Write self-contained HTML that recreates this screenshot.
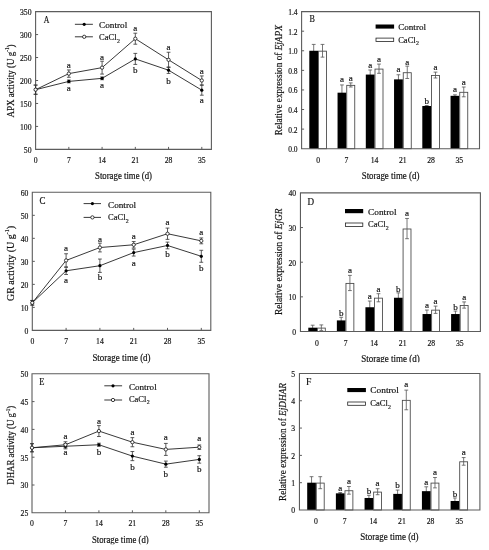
<!DOCTYPE html>
<html><head><meta charset="utf-8"><title>Figure</title>
<style>
html,body{margin:0;padding:0;background:#fff;}
body{width:489px;height:550px;overflow:hidden;}
svg{display:block;}
text{font-family:"Liberation Serif", "DejaVu Serif", serif;fill:#111;stroke:#111;stroke-width:0.18px;}
</style></head>
<body>
<svg width="489" height="550" viewBox="0 0 489 550">
<rect width="489" height="550" fill="#fff"/>
<path d="M35.6 11.6H211.4V149.4H35.6Z" fill="none" stroke="#5c5c5c" stroke-width="1.1"/>
<text x="31.5" y="152.8" font-size="9" text-anchor="end" textLength="7.7" lengthAdjust="spacingAndGlyphs" >50</text>
<path d="M35.6 126.43h2.5" stroke="#5c5c5c" stroke-width="1"/>
<text x="31.5" y="129.83" font-size="9" text-anchor="end" textLength="11.55" lengthAdjust="spacingAndGlyphs" >100</text>
<path d="M35.6 103.47h2.5" stroke="#5c5c5c" stroke-width="1"/>
<text x="31.5" y="106.87" font-size="9" text-anchor="end" textLength="11.55" lengthAdjust="spacingAndGlyphs" >150</text>
<path d="M35.6 80.5h2.5" stroke="#5c5c5c" stroke-width="1"/>
<text x="31.5" y="83.9" font-size="9" text-anchor="end" textLength="11.55" lengthAdjust="spacingAndGlyphs" >200</text>
<path d="M35.6 57.53h2.5" stroke="#5c5c5c" stroke-width="1"/>
<text x="31.5" y="60.93" font-size="9" text-anchor="end" textLength="11.55" lengthAdjust="spacingAndGlyphs" >250</text>
<path d="M35.6 34.57h2.5" stroke="#5c5c5c" stroke-width="1"/>
<text x="31.5" y="37.97" font-size="9" text-anchor="end" textLength="11.55" lengthAdjust="spacingAndGlyphs" >300</text>
<text x="31.5" y="15" font-size="9" text-anchor="end" textLength="11.55" lengthAdjust="spacingAndGlyphs" >350</text>
<text x="35.6" y="162.8" font-size="9" text-anchor="middle" textLength="3.85" lengthAdjust="spacingAndGlyphs" >0</text>
<path d="M68.84 149.4v-2.5" stroke="#5c5c5c" stroke-width="1"/>
<text x="68.84" y="162.8" font-size="9" text-anchor="middle" textLength="3.85" lengthAdjust="spacingAndGlyphs" >7</text>
<path d="M102.08 149.4v-2.5" stroke="#5c5c5c" stroke-width="1"/>
<text x="102.08" y="162.8" font-size="9" text-anchor="middle" textLength="7.7" lengthAdjust="spacingAndGlyphs" >14</text>
<path d="M135.32 149.4v-2.5" stroke="#5c5c5c" stroke-width="1"/>
<text x="135.32" y="162.8" font-size="9" text-anchor="middle" textLength="7.7" lengthAdjust="spacingAndGlyphs" >21</text>
<path d="M168.56 149.4v-2.5" stroke="#5c5c5c" stroke-width="1"/>
<text x="168.56" y="162.8" font-size="9" text-anchor="middle" textLength="7.7" lengthAdjust="spacingAndGlyphs" >28</text>
<path d="M201.8 149.4v-2.5" stroke="#5c5c5c" stroke-width="1"/>
<text x="201.8" y="162.8" font-size="9" text-anchor="middle" textLength="7.7" lengthAdjust="spacingAndGlyphs" >35</text>
<polyline points="35.6,89.69 68.84,81.42 102.08,78.34 135.32,58.91 168.56,70.21 201.8,90.15" fill="none" stroke="#222" stroke-width="0.9"/>
<polyline points="35.6,89.69 68.84,73.61 102.08,67.64 135.32,38.7 168.56,59.83 201.8,80.5" fill="none" stroke="#222" stroke-width="0.9"/>
<path d="M35.6 85.09V94.28M33.7 85.09H37.5M33.7 94.28H37.5" stroke="#333" stroke-width="0.8" fill="none"/>
<path d="M68.84 80.04V82.8M66.94 80.04H70.74M66.94 82.8H70.74" stroke="#333" stroke-width="0.8" fill="none"/>
<path d="M102.08 76.96V79.72M100.18 76.96H103.98M100.18 79.72H103.98" stroke="#333" stroke-width="0.8" fill="none"/>
<path d="M135.32 53.4V64.42M133.42 53.4H137.22M133.42 64.42H137.22" stroke="#333" stroke-width="0.8" fill="none"/>
<path d="M168.56 67V73.43M166.66 67H170.46M166.66 73.43H170.46" stroke="#333" stroke-width="0.8" fill="none"/>
<path d="M201.8 85.09V95.2M199.9 85.09H203.7M199.9 95.2H203.7" stroke="#333" stroke-width="0.8" fill="none"/>
<path d="M35.6 85.09V94.28M33.7 85.09H37.5M33.7 94.28H37.5" stroke="#333" stroke-width="0.8" fill="none"/>
<path d="M68.84 69.94V77.28M66.94 69.94H70.74M66.94 77.28H70.74" stroke="#333" stroke-width="0.8" fill="none"/>
<path d="M102.08 61.21V74.07M100.18 61.21H103.98M100.18 74.07H103.98" stroke="#333" stroke-width="0.8" fill="none"/>
<path d="M135.32 33.19V44.21M133.42 33.19H137.22M133.42 44.21H137.22" stroke="#333" stroke-width="0.8" fill="none"/>
<path d="M168.56 52.25V67.41M166.66 52.25H170.46M166.66 67.41H170.46" stroke="#333" stroke-width="0.8" fill="none"/>
<path d="M201.8 75.91V85.09M199.9 75.91H203.7M199.9 85.09H203.7" stroke="#333" stroke-width="0.8" fill="none"/>
<circle cx="35.6" cy="89.69" r="1.6" fill="#000"/>
<circle cx="68.84" cy="81.42" r="1.6" fill="#000"/>
<circle cx="102.08" cy="78.34" r="1.6" fill="#000"/>
<circle cx="135.32" cy="58.91" r="1.6" fill="#000"/>
<circle cx="168.56" cy="70.21" r="1.6" fill="#000"/>
<circle cx="201.8" cy="90.15" r="1.6" fill="#000"/>
<circle cx="35.6" cy="89.69" r="1.65" fill="#fff" stroke="#111" stroke-width="0.8"/>
<circle cx="68.84" cy="73.61" r="1.65" fill="#fff" stroke="#111" stroke-width="0.8"/>
<circle cx="102.08" cy="67.64" r="1.65" fill="#fff" stroke="#111" stroke-width="0.8"/>
<circle cx="135.32" cy="38.7" r="1.65" fill="#fff" stroke="#111" stroke-width="0.8"/>
<circle cx="168.56" cy="59.83" r="1.65" fill="#fff" stroke="#111" stroke-width="0.8"/>
<circle cx="201.8" cy="80.5" r="1.65" fill="#fff" stroke="#111" stroke-width="0.8"/>
<text x="68.84" y="67.57" font-size="9" text-anchor="middle" >a</text>
<text x="68.84" y="91.07" font-size="9" text-anchor="middle" >a</text>
<text x="102.08" y="59.77" font-size="9" text-anchor="middle" >a</text>
<text x="102.08" y="87.77" font-size="9" text-anchor="middle" >a</text>
<text x="135.32" y="31.07" font-size="9" text-anchor="middle" >a</text>
<text x="135.32" y="72.97" font-size="9" text-anchor="middle" >b</text>
<text x="168.56" y="50.37" font-size="9" text-anchor="middle" >a</text>
<text x="168.56" y="83.67" font-size="9" text-anchor="middle" >b</text>
<text x="201.8" y="73.67" font-size="9" text-anchor="middle" >a</text>
<text x="201.8" y="102.57" font-size="9" text-anchor="middle" >a</text>
<path d="M74.9 24.3H92.9M74.9 36.8H92.9" stroke="#222" stroke-width="0.9"/>
<circle cx="84.2" cy="24.3" r="1.6" fill="#000"/>
<circle cx="84.2" cy="36.8" r="1.65" fill="#fff" stroke="#111" stroke-width="0.8"/>
<text x="99.1" y="27.8" font-size="9.2" text-anchor="start" textLength="28.2" lengthAdjust="spacingAndGlyphs" >Control</text>
<text x="99.1" y="40.4" font-size="9.2" text-anchor="start" textLength="17.5" lengthAdjust="spacingAndGlyphs" >CaCl</text>
<text x="116.9" y="42.7" font-size="5.8" text-anchor="start" >2</text>
<text x="43.8" y="23" font-size="10" text-anchor="start" textLength="5.6" lengthAdjust="spacingAndGlyphs" >A</text>
<text x="95" y="179.4" font-size="9.3" text-anchor="start" textLength="57" lengthAdjust="spacingAndGlyphs" >Storage time (d)</text>
<text transform="translate(14,80.9) rotate(-90)" x="0" y="0" font-size="9.3" text-anchor="middle" textLength="73" lengthAdjust="spacingAndGlyphs">APX activity (U g<tspan font-size="5.5" dy="-4.6">-1</tspan><tspan dy="4.6">)</tspan></text>
<path d="M32.3 192.3H210.8V330.4H32.3Z" fill="none" stroke="#5c5c5c" stroke-width="1.1"/>
<text x="28.4" y="333.8" font-size="9" text-anchor="end" textLength="3.85" lengthAdjust="spacingAndGlyphs" >0</text>
<path d="M32.3 307.38h2.5" stroke="#5c5c5c" stroke-width="1"/>
<text x="28.4" y="310.78" font-size="9" text-anchor="end" textLength="7.7" lengthAdjust="spacingAndGlyphs" >10</text>
<path d="M32.3 284.37h2.5" stroke="#5c5c5c" stroke-width="1"/>
<text x="28.4" y="287.77" font-size="9" text-anchor="end" textLength="7.7" lengthAdjust="spacingAndGlyphs" >20</text>
<path d="M32.3 261.35h2.5" stroke="#5c5c5c" stroke-width="1"/>
<text x="28.4" y="264.75" font-size="9" text-anchor="end" textLength="7.7" lengthAdjust="spacingAndGlyphs" >30</text>
<path d="M32.3 238.33h2.5" stroke="#5c5c5c" stroke-width="1"/>
<text x="28.4" y="241.73" font-size="9" text-anchor="end" textLength="7.7" lengthAdjust="spacingAndGlyphs" >40</text>
<path d="M32.3 215.32h2.5" stroke="#5c5c5c" stroke-width="1"/>
<text x="28.4" y="218.72" font-size="9" text-anchor="end" textLength="7.7" lengthAdjust="spacingAndGlyphs" >50</text>
<text x="28.4" y="195.7" font-size="9" text-anchor="end" textLength="7.7" lengthAdjust="spacingAndGlyphs" >60</text>
<text x="32.3" y="344.1" font-size="9" text-anchor="middle" textLength="3.85" lengthAdjust="spacingAndGlyphs" >0</text>
<path d="M66.1 330.4v-2.5" stroke="#5c5c5c" stroke-width="1"/>
<text x="66.1" y="344.1" font-size="9" text-anchor="middle" textLength="3.85" lengthAdjust="spacingAndGlyphs" >7</text>
<path d="M99.9 330.4v-2.5" stroke="#5c5c5c" stroke-width="1"/>
<text x="99.9" y="344.1" font-size="9" text-anchor="middle" textLength="7.7" lengthAdjust="spacingAndGlyphs" >14</text>
<path d="M133.7 330.4v-2.5" stroke="#5c5c5c" stroke-width="1"/>
<text x="133.7" y="344.1" font-size="9" text-anchor="middle" textLength="7.7" lengthAdjust="spacingAndGlyphs" >21</text>
<path d="M167.5 330.4v-2.5" stroke="#5c5c5c" stroke-width="1"/>
<text x="167.5" y="344.1" font-size="9" text-anchor="middle" textLength="7.7" lengthAdjust="spacingAndGlyphs" >28</text>
<path d="M201.3 330.4v-2.5" stroke="#5c5c5c" stroke-width="1"/>
<text x="201.3" y="344.1" font-size="9" text-anchor="middle" textLength="7.7" lengthAdjust="spacingAndGlyphs" >35</text>
<polyline points="32.3,302.78 66.1,270.79 99.9,265.72 133.7,252.6 167.5,245.47 201.3,256.29" fill="none" stroke="#222" stroke-width="0.9"/>
<polyline points="32.3,302.78 66.1,260.43 99.9,247.54 133.7,244.78 167.5,233.73 201.3,240.87" fill="none" stroke="#222" stroke-width="0.9"/>
<path d="M32.3 300.48V305.08M30.4 300.48H34.2M30.4 305.08H34.2" stroke="#333" stroke-width="0.8" fill="none"/>
<path d="M66.1 267.1V274.47M64.2 267.1H68M64.2 274.47H68" stroke="#333" stroke-width="0.8" fill="none"/>
<path d="M99.9 259.05V272.4M98 259.05H101.8M98 272.4H101.8" stroke="#333" stroke-width="0.8" fill="none"/>
<path d="M133.7 249.15V256.06M131.8 249.15H135.6M131.8 256.06H135.6" stroke="#333" stroke-width="0.8" fill="none"/>
<path d="M167.5 242.11V248.83M165.6 242.11H169.4M165.6 248.83H169.4" stroke="#333" stroke-width="0.8" fill="none"/>
<path d="M201.3 250.3V262.27M199.4 250.3H203.2M199.4 262.27H203.2" stroke="#333" stroke-width="0.8" fill="none"/>
<path d="M32.3 300.48V305.08M30.4 300.48H34.2M30.4 305.08H34.2" stroke="#333" stroke-width="0.8" fill="none"/>
<path d="M66.1 253.75V267.1M64.2 253.75H68M64.2 267.1H68" stroke="#333" stroke-width="0.8" fill="none"/>
<path d="M99.9 243.17V251.91M98 243.17H101.8M98 251.91H101.8" stroke="#333" stroke-width="0.8" fill="none"/>
<path d="M133.7 241.56V248M131.8 241.56H135.6M131.8 248H135.6" stroke="#333" stroke-width="0.8" fill="none"/>
<path d="M167.5 228.09V239.37M165.6 228.09H169.4M165.6 239.37H169.4" stroke="#333" stroke-width="0.8" fill="none"/>
<path d="M201.3 237.94V243.79M199.4 237.94H203.2M199.4 243.79H203.2" stroke="#333" stroke-width="0.8" fill="none"/>
<circle cx="32.3" cy="302.78" r="1.6" fill="#000"/>
<circle cx="66.1" cy="270.79" r="1.6" fill="#000"/>
<circle cx="99.9" cy="265.72" r="1.6" fill="#000"/>
<circle cx="133.7" cy="252.6" r="1.6" fill="#000"/>
<circle cx="167.5" cy="245.47" r="1.6" fill="#000"/>
<circle cx="201.3" cy="256.29" r="1.6" fill="#000"/>
<circle cx="32.3" cy="302.78" r="1.65" fill="#fff" stroke="#111" stroke-width="0.8"/>
<circle cx="66.1" cy="260.43" r="1.65" fill="#fff" stroke="#111" stroke-width="0.8"/>
<circle cx="99.9" cy="247.54" r="1.65" fill="#fff" stroke="#111" stroke-width="0.8"/>
<circle cx="133.7" cy="244.78" r="1.65" fill="#fff" stroke="#111" stroke-width="0.8"/>
<circle cx="167.5" cy="233.73" r="1.65" fill="#fff" stroke="#111" stroke-width="0.8"/>
<circle cx="201.3" cy="240.87" r="1.65" fill="#fff" stroke="#111" stroke-width="0.8"/>
<text x="66.1" y="251.27" font-size="9" text-anchor="middle" >a</text>
<text x="66.1" y="282.57" font-size="9" text-anchor="middle" >a</text>
<text x="99.9" y="241.57" font-size="9" text-anchor="middle" >a</text>
<text x="99.9" y="280.17" font-size="9" text-anchor="middle" >b</text>
<text x="133.7" y="239.37" font-size="9" text-anchor="middle" >a</text>
<text x="133.7" y="265.87" font-size="9" text-anchor="middle" >a</text>
<text x="167.5" y="225.37" font-size="9" text-anchor="middle" >a</text>
<text x="167.5" y="257.37" font-size="9" text-anchor="middle" >b</text>
<text x="201.3" y="235.47" font-size="9" text-anchor="middle" >a</text>
<text x="201.3" y="270.67" font-size="9" text-anchor="middle" >b</text>
<path d="M83.6 203.6H101M83.6 217.4H101" stroke="#222" stroke-width="0.9"/>
<circle cx="92.4" cy="203.6" r="1.6" fill="#000"/>
<circle cx="92.4" cy="217.4" r="1.65" fill="#fff" stroke="#111" stroke-width="0.8"/>
<text x="108" y="207.5" font-size="9.2" text-anchor="start" textLength="28.1" lengthAdjust="spacingAndGlyphs" >Control</text>
<text x="108" y="220.4" font-size="9.2" text-anchor="start" textLength="17.5" lengthAdjust="spacingAndGlyphs" >CaCl</text>
<text x="125.8" y="222.7" font-size="5.8" text-anchor="start" >2</text>
<text x="39.5" y="203.6" font-size="10" text-anchor="start" textLength="6" lengthAdjust="spacingAndGlyphs" >C</text>
<text x="92.4" y="360.5" font-size="9.3" text-anchor="start" textLength="58.2" lengthAdjust="spacingAndGlyphs" >Storage time (d)</text>
<text transform="translate(14,263.5) rotate(-90)" x="0" y="0" font-size="9.3" text-anchor="middle" textLength="75" lengthAdjust="spacingAndGlyphs">GR activity (U g<tspan font-size="5.5" dy="-4.6">-1</tspan><tspan dy="4.6">)</tspan></text>
<path d="M32 373.8H209V512.8H32Z" fill="none" stroke="#5c5c5c" stroke-width="1.1"/>
<text x="28.3" y="516.2" font-size="9" text-anchor="end" textLength="7.7" lengthAdjust="spacingAndGlyphs" >25</text>
<path d="M32 485h2.5" stroke="#5c5c5c" stroke-width="1"/>
<text x="28.3" y="488.4" font-size="9" text-anchor="end" textLength="7.7" lengthAdjust="spacingAndGlyphs" >30</text>
<path d="M32 457.2h2.5" stroke="#5c5c5c" stroke-width="1"/>
<text x="28.3" y="460.6" font-size="9" text-anchor="end" textLength="7.7" lengthAdjust="spacingAndGlyphs" >35</text>
<path d="M32 429.4h2.5" stroke="#5c5c5c" stroke-width="1"/>
<text x="28.3" y="432.8" font-size="9" text-anchor="end" textLength="7.7" lengthAdjust="spacingAndGlyphs" >40</text>
<path d="M32 401.6h2.5" stroke="#5c5c5c" stroke-width="1"/>
<text x="28.3" y="405" font-size="9" text-anchor="end" textLength="7.7" lengthAdjust="spacingAndGlyphs" >45</text>
<text x="28.3" y="377.2" font-size="9" text-anchor="end" textLength="7.7" lengthAdjust="spacingAndGlyphs" >50</text>
<text x="32" y="526.3" font-size="9" text-anchor="middle" textLength="3.85" lengthAdjust="spacingAndGlyphs" >0</text>
<path d="M65.46 512.8v-2.5" stroke="#5c5c5c" stroke-width="1"/>
<text x="65.46" y="526.3" font-size="9" text-anchor="middle" textLength="3.85" lengthAdjust="spacingAndGlyphs" >7</text>
<path d="M98.92 512.8v-2.5" stroke="#5c5c5c" stroke-width="1"/>
<text x="98.92" y="526.3" font-size="9" text-anchor="middle" textLength="7.7" lengthAdjust="spacingAndGlyphs" >14</text>
<path d="M132.38 512.8v-2.5" stroke="#5c5c5c" stroke-width="1"/>
<text x="132.38" y="526.3" font-size="9" text-anchor="middle" textLength="7.7" lengthAdjust="spacingAndGlyphs" >21</text>
<path d="M165.84 512.8v-2.5" stroke="#5c5c5c" stroke-width="1"/>
<text x="165.84" y="526.3" font-size="9" text-anchor="middle" textLength="7.7" lengthAdjust="spacingAndGlyphs" >28</text>
<path d="M199.3 512.8v-2.5" stroke="#5c5c5c" stroke-width="1"/>
<text x="199.3" y="526.3" font-size="9" text-anchor="middle" textLength="7.7" lengthAdjust="spacingAndGlyphs" >35</text>
<polyline points="32,447.75 65.46,446.25 98.92,444.75 132.38,456.09 165.84,464.15 199.3,459.42" fill="none" stroke="#222" stroke-width="0.9"/>
<polyline points="32,447.75 65.46,444.75 98.92,431.07 132.38,442.19 165.84,449.42 199.3,447.19" fill="none" stroke="#222" stroke-width="0.9"/>
<path d="M32 443.69V451.81M30.1 443.69H33.9M30.1 451.81H33.9" stroke="#333" stroke-width="0.8" fill="none"/>
<path d="M65.46 443.63V448.86M63.56 443.63H67.36M63.56 448.86H67.36" stroke="#333" stroke-width="0.8" fill="none"/>
<path d="M98.92 443.19V446.3M97.02 443.19H100.82M97.02 446.3H100.82" stroke="#333" stroke-width="0.8" fill="none"/>
<path d="M132.38 451.53V460.65M130.48 451.53H134.28M130.48 460.65H134.28" stroke="#333" stroke-width="0.8" fill="none"/>
<path d="M165.84 461.09V467.21M163.94 461.09H167.74M163.94 467.21H167.74" stroke="#333" stroke-width="0.8" fill="none"/>
<path d="M199.3 455.7V463.15M197.4 455.7H201.2M197.4 463.15H201.2" stroke="#333" stroke-width="0.8" fill="none"/>
<path d="M32 443.69V451.81M30.1 443.69H33.9M30.1 451.81H33.9" stroke="#333" stroke-width="0.8" fill="none"/>
<path d="M65.46 441.74V447.75M63.56 441.74H67.36M63.56 447.75H67.36" stroke="#333" stroke-width="0.8" fill="none"/>
<path d="M98.92 425.62V436.52M97.02 425.62H100.82M97.02 436.52H100.82" stroke="#333" stroke-width="0.8" fill="none"/>
<path d="M132.38 437.63V446.75M130.48 437.63H134.28M130.48 446.75H134.28" stroke="#333" stroke-width="0.8" fill="none"/>
<path d="M165.84 443.41V455.42M163.94 443.41H167.74M163.94 455.42H167.74" stroke="#333" stroke-width="0.8" fill="none"/>
<path d="M199.3 444.97V449.42M197.4 444.97H201.2M197.4 449.42H201.2" stroke="#333" stroke-width="0.8" fill="none"/>
<circle cx="32" cy="447.75" r="1.6" fill="#000"/>
<circle cx="65.46" cy="446.25" r="1.6" fill="#000"/>
<circle cx="98.92" cy="444.75" r="1.6" fill="#000"/>
<circle cx="132.38" cy="456.09" r="1.6" fill="#000"/>
<circle cx="165.84" cy="464.15" r="1.6" fill="#000"/>
<circle cx="199.3" cy="459.42" r="1.6" fill="#000"/>
<circle cx="32" cy="447.75" r="1.65" fill="#fff" stroke="#111" stroke-width="0.8"/>
<circle cx="65.46" cy="444.75" r="1.65" fill="#fff" stroke="#111" stroke-width="0.8"/>
<circle cx="98.92" cy="431.07" r="1.65" fill="#fff" stroke="#111" stroke-width="0.8"/>
<circle cx="132.38" cy="442.19" r="1.65" fill="#fff" stroke="#111" stroke-width="0.8"/>
<circle cx="165.84" cy="449.42" r="1.65" fill="#fff" stroke="#111" stroke-width="0.8"/>
<circle cx="199.3" cy="447.19" r="1.65" fill="#fff" stroke="#111" stroke-width="0.8"/>
<text x="65.46" y="438.67" font-size="9" text-anchor="middle" >a</text>
<text x="65.46" y="455.47" font-size="9" text-anchor="middle" >a</text>
<text x="98.92" y="423.67" font-size="9" text-anchor="middle" >a</text>
<text x="98.92" y="454.77" font-size="9" text-anchor="middle" >b</text>
<text x="132.38" y="434.57" font-size="9" text-anchor="middle" >a</text>
<text x="132.38" y="470.17" font-size="9" text-anchor="middle" >b</text>
<text x="165.84" y="440.07" font-size="9" text-anchor="middle" >a</text>
<text x="165.84" y="476.67" font-size="9" text-anchor="middle" >b</text>
<text x="199.3" y="441.07" font-size="9" text-anchor="middle" >a</text>
<text x="199.3" y="472.47" font-size="9" text-anchor="middle" >b</text>
<path d="M104.3 385.8H122.1M104.3 400H122.1" stroke="#222" stroke-width="0.9"/>
<circle cx="113" cy="385.8" r="1.6" fill="#000"/>
<circle cx="113" cy="400" r="1.65" fill="#fff" stroke="#111" stroke-width="0.8"/>
<text x="128.9" y="389.6" font-size="9.2" text-anchor="start" textLength="27.8" lengthAdjust="spacingAndGlyphs" >Control</text>
<text x="128.9" y="402" font-size="9.2" text-anchor="start" textLength="17.5" lengthAdjust="spacingAndGlyphs" >CaCl</text>
<text x="146.7" y="404.3" font-size="5.8" text-anchor="start" >2</text>
<text x="39.3" y="384.9" font-size="10" text-anchor="start" textLength="5.2" lengthAdjust="spacingAndGlyphs" >E</text>
<text x="91.9" y="543.3" font-size="9.3" text-anchor="start" textLength="56.8" lengthAdjust="spacingAndGlyphs" >Storage time (d)</text>
<text transform="translate(14.2,445.2) rotate(-90)" x="0" y="0" font-size="9.3" text-anchor="middle" textLength="79" lengthAdjust="spacingAndGlyphs">DHAR activity (U g<tspan font-size="5.5" dy="-4.6">-1</tspan><tspan dy="4.6">)</tspan></text>
<text x="297.6" y="152.1" font-size="9" text-anchor="end" textLength="9.4" lengthAdjust="spacingAndGlyphs" >0.0</text>
<path d="M301.6 129.11h2.5" stroke="#5c5c5c" stroke-width="1"/>
<text x="297.6" y="132.51" font-size="9" text-anchor="end" textLength="9.4" lengthAdjust="spacingAndGlyphs" >0.2</text>
<path d="M301.6 109.53h2.5" stroke="#5c5c5c" stroke-width="1"/>
<text x="297.6" y="112.93" font-size="9" text-anchor="end" textLength="9.4" lengthAdjust="spacingAndGlyphs" >0.4</text>
<path d="M301.6 89.94h2.5" stroke="#5c5c5c" stroke-width="1"/>
<text x="297.6" y="93.34" font-size="9" text-anchor="end" textLength="9.4" lengthAdjust="spacingAndGlyphs" >0.6</text>
<path d="M301.6 70.36h2.5" stroke="#5c5c5c" stroke-width="1"/>
<text x="297.6" y="73.76" font-size="9" text-anchor="end" textLength="9.4" lengthAdjust="spacingAndGlyphs" >0.8</text>
<path d="M301.6 50.77h2.5" stroke="#5c5c5c" stroke-width="1"/>
<text x="297.6" y="54.17" font-size="9" text-anchor="end" textLength="9.4" lengthAdjust="spacingAndGlyphs" >1.0</text>
<path d="M301.6 31.19h2.5" stroke="#5c5c5c" stroke-width="1"/>
<text x="297.6" y="34.59" font-size="9" text-anchor="end" textLength="9.4" lengthAdjust="spacingAndGlyphs" >1.2</text>
<text x="297.6" y="15" font-size="9" text-anchor="end" textLength="9.4" lengthAdjust="spacingAndGlyphs" >1.4</text>
<text x="318.1" y="162.5" font-size="9" text-anchor="middle" textLength="3.85" lengthAdjust="spacingAndGlyphs" >0</text>
<text x="346.35" y="162.5" font-size="9" text-anchor="middle" textLength="3.85" lengthAdjust="spacingAndGlyphs" >7</text>
<text x="374.6" y="162.5" font-size="9" text-anchor="middle" textLength="7.7" lengthAdjust="spacingAndGlyphs" >14</text>
<text x="402.85" y="162.5" font-size="9" text-anchor="middle" textLength="7.7" lengthAdjust="spacingAndGlyphs" >21</text>
<text x="431.1" y="162.5" font-size="9" text-anchor="middle" textLength="7.7" lengthAdjust="spacingAndGlyphs" >28</text>
<text x="459.35" y="162.5" font-size="9" text-anchor="middle" textLength="7.7" lengthAdjust="spacingAndGlyphs" >35</text>
<path d="M313.7 44.41V57.14M311.8 44.41H315.6M311.8 57.14H315.6" stroke="#555" stroke-width="0.8" fill="none"/>
<rect x="309.3" y="50.77" width="8.8" height="97.93" fill="#000"/>
<rect x="318.5" y="51.17" width="8" height="97.53" fill="#fff" stroke="#444" stroke-width="0.85"/>
<path d="M322.5 44.41V57.14M320.6 44.41H324.4M320.6 57.14H324.4" stroke="#555" stroke-width="0.8" fill="none"/>
<path d="M341.95 84.95V100.42M340.05 84.95H343.85M340.05 100.42H343.85" stroke="#555" stroke-width="0.8" fill="none"/>
<rect x="337.55" y="92.68" width="8.8" height="56.02" fill="#000"/>
<rect x="346.75" y="85.35" width="8" height="63.35" fill="#fff" stroke="#444" stroke-width="0.85"/>
<path d="M350.75 82.89V87M348.85 82.89H352.65M348.85 87H352.65" stroke="#555" stroke-width="0.8" fill="none"/>
<path d="M370.2 69.97V79.17M368.3 69.97H372.1M368.3 79.17H372.1" stroke="#555" stroke-width="0.8" fill="none"/>
<rect x="365.8" y="74.57" width="8.8" height="74.13" fill="#000"/>
<rect x="375" y="69.09" width="8" height="79.61" fill="#fff" stroke="#444" stroke-width="0.85"/>
<path d="M379 64.09V73.3M377.1 64.09H380.9M377.1 73.3H380.9" stroke="#555" stroke-width="0.8" fill="none"/>
<path d="M398.45 74.76V83.97M396.55 74.76H400.35M396.55 83.97H400.35" stroke="#555" stroke-width="0.8" fill="none"/>
<rect x="394.05" y="79.37" width="8.8" height="69.33" fill="#000"/>
<rect x="403.25" y="72.72" width="8" height="75.98" fill="#fff" stroke="#444" stroke-width="0.85"/>
<path d="M407.25 66.15V78.49M405.35 66.15H409.15M405.35 78.49H409.15" stroke="#555" stroke-width="0.8" fill="none"/>
<path d="M426.7 105.51V106.49M424.8 105.51H428.6M424.8 106.49H428.6" stroke="#555" stroke-width="0.8" fill="none"/>
<rect x="422.3" y="106" width="8.8" height="42.7" fill="#000"/>
<rect x="431.5" y="75.46" width="8" height="73.24" fill="#fff" stroke="#444" stroke-width="0.85"/>
<path d="M435.5 72.12V78M433.6 72.12H437.4M433.6 78H437.4" stroke="#555" stroke-width="0.8" fill="none"/>
<path d="M454.95 94.84V96.8M453.05 94.84H456.85M453.05 96.8H456.85" stroke="#555" stroke-width="0.8" fill="none"/>
<rect x="450.55" y="95.82" width="8.8" height="52.88" fill="#000"/>
<rect x="459.75" y="92.3" width="8" height="56.4" fill="#fff" stroke="#444" stroke-width="0.85"/>
<path d="M463.75 87V96.8M461.85 87H465.65M461.85 96.8H465.65" stroke="#555" stroke-width="0.8" fill="none"/>
<path d="M301.6 11.6H479.5V148.7H301.6Z" fill="none" stroke="#5c5c5c" stroke-width="1.1"/>
<text x="341.95" y="82.47" font-size="9" text-anchor="middle" >a</text>
<text x="350.75" y="80.87" font-size="9" text-anchor="middle" >a</text>
<text x="370.2" y="67.67" font-size="9" text-anchor="middle" >a</text>
<text x="379" y="62.27" font-size="9" text-anchor="middle" >a</text>
<text x="398.45" y="72.07" font-size="9" text-anchor="middle" >a</text>
<text x="407.25" y="64.67" font-size="9" text-anchor="middle" >a</text>
<text x="426.7" y="103.67" font-size="9" text-anchor="middle" >b</text>
<text x="435.5" y="69.97" font-size="9" text-anchor="middle" >a</text>
<text x="454.95" y="92.37" font-size="9" text-anchor="middle" >a</text>
<text x="463.75" y="84.77" font-size="9" text-anchor="middle" >a</text>
<rect x="375.6" y="24.5" width="18.5" height="4.1" fill="#000"/>
<rect x="376" y="38.1" width="17.7" height="3.3" fill="#fff" stroke="#222" stroke-width="0.8"/>
<text x="398.2" y="29.7" font-size="9.2" text-anchor="start" textLength="27.8" lengthAdjust="spacingAndGlyphs" >Control</text>
<text x="398.2" y="42.5" font-size="9.2" text-anchor="start" textLength="17.5" lengthAdjust="spacingAndGlyphs" >CaCl</text>
<text x="416" y="44.8" font-size="5.8" text-anchor="start" >2</text>
<text x="309.4" y="22.1" font-size="10" text-anchor="start" textLength="5.4" lengthAdjust="spacingAndGlyphs" >B</text>
<text x="361.7" y="179.1" font-size="9.3" text-anchor="start" textLength="57.7" lengthAdjust="spacingAndGlyphs" >Storage time (d)</text>
<text transform="translate(281.6,80.2) rotate(-90)" x="0" y="0" font-size="9.3" text-anchor="middle" textLength="110" lengthAdjust="spacingAndGlyphs">Relative expression of <tspan font-style="italic">EjAPX</tspan></text>
<text x="296.2" y="334.9" font-size="9" text-anchor="end" textLength="3.85" lengthAdjust="spacingAndGlyphs" >0</text>
<path d="M300.45 296.85h2.5" stroke="#5c5c5c" stroke-width="1"/>
<text x="296.2" y="300.25" font-size="9" text-anchor="end" textLength="7.7" lengthAdjust="spacingAndGlyphs" >10</text>
<path d="M300.45 262.2h2.5" stroke="#5c5c5c" stroke-width="1"/>
<text x="296.2" y="265.6" font-size="9" text-anchor="end" textLength="7.7" lengthAdjust="spacingAndGlyphs" >20</text>
<path d="M300.45 227.55h2.5" stroke="#5c5c5c" stroke-width="1"/>
<text x="296.2" y="230.95" font-size="9" text-anchor="end" textLength="7.7" lengthAdjust="spacingAndGlyphs" >30</text>
<text x="296.2" y="196.3" font-size="9" text-anchor="end" textLength="7.7" lengthAdjust="spacingAndGlyphs" >40</text>
<text x="317" y="345.7" font-size="9" text-anchor="middle" textLength="3.85" lengthAdjust="spacingAndGlyphs" >0</text>
<text x="345.56" y="345.7" font-size="9" text-anchor="middle" textLength="3.85" lengthAdjust="spacingAndGlyphs" >7</text>
<text x="374.12" y="345.7" font-size="9" text-anchor="middle" textLength="7.7" lengthAdjust="spacingAndGlyphs" >14</text>
<text x="402.68" y="345.7" font-size="9" text-anchor="middle" textLength="7.7" lengthAdjust="spacingAndGlyphs" >21</text>
<text x="431.24" y="345.7" font-size="9" text-anchor="middle" textLength="7.7" lengthAdjust="spacingAndGlyphs" >28</text>
<text x="459.8" y="345.7" font-size="9" text-anchor="middle" textLength="7.7" lengthAdjust="spacingAndGlyphs" >35</text>
<path d="M312.65 325.19V330.18M310.75 325.19H314.55M310.75 330.18H314.55" stroke="#555" stroke-width="0.8" fill="none"/>
<rect x="308.3" y="327.69" width="8.7" height="3.81" fill="#000"/>
<rect x="317.4" y="328.09" width="7.9" height="3.41" fill="#fff" stroke="#444" stroke-width="0.85"/>
<path d="M321.35 324.92V330.46M319.45 324.92H323.25M319.45 330.46H323.25" stroke="#555" stroke-width="0.8" fill="none"/>
<path d="M341.21 317.29V323.53M339.31 317.29H343.11M339.31 323.53H343.11" stroke="#555" stroke-width="0.8" fill="none"/>
<rect x="336.86" y="320.41" width="8.7" height="11.09" fill="#000"/>
<rect x="345.96" y="283.39" width="7.9" height="48.11" fill="#fff" stroke="#444" stroke-width="0.85"/>
<path d="M349.91 275.4V290.58M348.01 275.4H351.81M348.01 290.58H351.81" stroke="#555" stroke-width="0.8" fill="none"/>
<path d="M369.77 301.04V313.45M367.87 301.04H371.67M367.87 313.45H371.67" stroke="#555" stroke-width="0.8" fill="none"/>
<rect x="365.42" y="307.25" width="8.7" height="24.25" fill="#000"/>
<rect x="374.52" y="298.15" width="7.9" height="33.35" fill="#fff" stroke="#444" stroke-width="0.85"/>
<path d="M378.47 293.7V301.8M376.57 293.7H380.37M376.57 301.8H380.37" stroke="#555" stroke-width="0.8" fill="none"/>
<path d="M398.33 292.87V302.64M396.43 292.87H400.23M396.43 302.64H400.23" stroke="#555" stroke-width="0.8" fill="none"/>
<rect x="393.98" y="297.75" width="8.7" height="33.75" fill="#000"/>
<rect x="403.08" y="228.99" width="7.9" height="102.51" fill="#fff" stroke="#444" stroke-width="0.85"/>
<path d="M407.03 218.47V238.71M405.13 218.47H408.93M405.13 238.71H408.93" stroke="#555" stroke-width="0.8" fill="none"/>
<path d="M426.89 310.05V318.02M424.99 310.05H428.79M424.99 318.02H428.79" stroke="#555" stroke-width="0.8" fill="none"/>
<rect x="422.54" y="314.04" width="8.7" height="17.46" fill="#000"/>
<rect x="431.64" y="310.14" width="7.9" height="21.36" fill="#fff" stroke="#444" stroke-width="0.85"/>
<path d="M435.59 306.1V313.38M433.69 306.1H437.49M433.69 313.38H437.49" stroke="#555" stroke-width="0.8" fill="none"/>
<path d="M455.45 311.06V317.02M453.55 311.06H457.35M453.55 317.02H457.35" stroke="#555" stroke-width="0.8" fill="none"/>
<rect x="451.1" y="314.04" width="8.7" height="17.46" fill="#000"/>
<rect x="460.2" y="305.43" width="7.9" height="26.07" fill="#fff" stroke="#444" stroke-width="0.85"/>
<path d="M464.15 301.91V308.15M462.25 301.91H466.05M462.25 308.15H466.05" stroke="#555" stroke-width="0.8" fill="none"/>
<path d="M300.45 192.9H480.4V331.5H300.45Z" fill="none" stroke="#5c5c5c" stroke-width="1.1"/>
<text x="341.21" y="315.57" font-size="9" text-anchor="middle" >b</text>
<text x="349.91" y="273.37" font-size="9" text-anchor="middle" >a</text>
<text x="369.77" y="298.87" font-size="9" text-anchor="middle" >a</text>
<text x="378.47" y="291.97" font-size="9" text-anchor="middle" >a</text>
<text x="398.33" y="291.57" font-size="9" text-anchor="middle" >b</text>
<text x="407.03" y="215.97" font-size="9" text-anchor="middle" >a</text>
<text x="426.89" y="308.17" font-size="9" text-anchor="middle" >a</text>
<text x="435.59" y="304.07" font-size="9" text-anchor="middle" >a</text>
<text x="455.45" y="309.57" font-size="9" text-anchor="middle" >b</text>
<text x="464.15" y="299.77" font-size="9" text-anchor="middle" >a</text>
<rect x="345" y="209" width="18.2" height="4.2" fill="#000"/>
<rect x="345.4" y="223" width="17.4" height="3.4" fill="#fff" stroke="#222" stroke-width="0.8"/>
<text x="368" y="214.6" font-size="9.2" text-anchor="start" textLength="28.5" lengthAdjust="spacingAndGlyphs" >Control</text>
<text x="368" y="227.2" font-size="9.2" text-anchor="start" textLength="17.5" lengthAdjust="spacingAndGlyphs" >CaCl</text>
<text x="385.8" y="229.5" font-size="5.8" text-anchor="start" >2</text>
<text x="307.6" y="204.7" font-size="10" text-anchor="start" textLength="6.6" lengthAdjust="spacingAndGlyphs" >D</text>
<text x="361.2" y="361.5" font-size="9.3" text-anchor="start" textLength="58.6" lengthAdjust="spacingAndGlyphs" >Storage time (d)</text>
<text transform="translate(281.8,261.8) rotate(-90)" x="0" y="0" font-size="9.3" text-anchor="middle" textLength="106.4" lengthAdjust="spacingAndGlyphs">Relative expression of <tspan font-style="italic">EjGR</tspan></text>
<text x="295.2" y="513.4" font-size="9" text-anchor="end" textLength="3.85" lengthAdjust="spacingAndGlyphs" >0</text>
<path d="M299.45 482.69h2.5" stroke="#5c5c5c" stroke-width="1"/>
<text x="295.2" y="486.09" font-size="9" text-anchor="end" textLength="3.85" lengthAdjust="spacingAndGlyphs" >1</text>
<path d="M299.45 455.38h2.5" stroke="#5c5c5c" stroke-width="1"/>
<text x="295.2" y="458.78" font-size="9" text-anchor="end" textLength="3.85" lengthAdjust="spacingAndGlyphs" >2</text>
<path d="M299.45 428.07h2.5" stroke="#5c5c5c" stroke-width="1"/>
<text x="295.2" y="431.47" font-size="9" text-anchor="end" textLength="3.85" lengthAdjust="spacingAndGlyphs" >3</text>
<path d="M299.45 400.76h2.5" stroke="#5c5c5c" stroke-width="1"/>
<text x="295.2" y="404.16" font-size="9" text-anchor="end" textLength="3.85" lengthAdjust="spacingAndGlyphs" >4</text>
<text x="295.2" y="376.85" font-size="9" text-anchor="end" textLength="3.85" lengthAdjust="spacingAndGlyphs" >5</text>
<text x="315.9" y="523.6" font-size="9" text-anchor="middle" textLength="3.85" lengthAdjust="spacingAndGlyphs" >0</text>
<text x="344.58" y="523.6" font-size="9" text-anchor="middle" textLength="3.85" lengthAdjust="spacingAndGlyphs" >7</text>
<text x="373.26" y="523.6" font-size="9" text-anchor="middle" textLength="7.7" lengthAdjust="spacingAndGlyphs" >14</text>
<text x="401.94" y="523.6" font-size="9" text-anchor="middle" textLength="7.7" lengthAdjust="spacingAndGlyphs" >21</text>
<text x="430.62" y="523.6" font-size="9" text-anchor="middle" textLength="7.7" lengthAdjust="spacingAndGlyphs" >28</text>
<text x="459.3" y="523.6" font-size="9" text-anchor="middle" textLength="7.7" lengthAdjust="spacingAndGlyphs" >35</text>
<path d="M311.55 476.68V488.7M309.65 476.68H313.45M309.65 488.7H313.45" stroke="#555" stroke-width="0.8" fill="none"/>
<rect x="307.2" y="482.69" width="8.7" height="27.31" fill="#000"/>
<rect x="316.3" y="483.09" width="7.9" height="26.91" fill="#fff" stroke="#444" stroke-width="0.85"/>
<path d="M320.25 476.68V488.7M318.35 476.68H322.15M318.35 488.7H322.15" stroke="#555" stroke-width="0.8" fill="none"/>
<path d="M340.23 492.52V494.16M338.33 492.52H342.13M338.33 494.16H342.13" stroke="#555" stroke-width="0.8" fill="none"/>
<rect x="335.88" y="493.34" width="8.7" height="16.66" fill="#000"/>
<rect x="344.98" y="490.74" width="7.9" height="19.26" fill="#fff" stroke="#444" stroke-width="0.85"/>
<path d="M348.93 486.51V494.16M347.03 486.51H350.83M347.03 494.16H350.83" stroke="#555" stroke-width="0.8" fill="none"/>
<path d="M368.91 495.25V500.71M367.01 495.25H370.81M367.01 500.71H370.81" stroke="#555" stroke-width="0.8" fill="none"/>
<rect x="364.56" y="497.98" width="8.7" height="12.02" fill="#000"/>
<rect x="373.66" y="492.1" width="7.9" height="17.9" fill="#fff" stroke="#444" stroke-width="0.85"/>
<path d="M377.61 488.7V494.71M375.71 488.7H379.51M375.71 494.71H379.51" stroke="#555" stroke-width="0.8" fill="none"/>
<path d="M397.59 490.06V497.71M395.69 490.06H399.49M395.69 497.71H399.49" stroke="#555" stroke-width="0.8" fill="none"/>
<rect x="393.24" y="493.89" width="8.7" height="16.11" fill="#000"/>
<rect x="402.34" y="400.34" width="7.9" height="109.66" fill="#fff" stroke="#444" stroke-width="0.85"/>
<path d="M406.29 390.11V409.77M404.39 390.11H408.19M404.39 409.77H408.19" stroke="#555" stroke-width="0.8" fill="none"/>
<path d="M426.27 486.79V495.53M424.37 486.79H428.17M424.37 495.53H428.17" stroke="#555" stroke-width="0.8" fill="none"/>
<rect x="421.92" y="491.16" width="8.7" height="18.84" fill="#000"/>
<rect x="431.02" y="483.09" width="7.9" height="26.91" fill="#fff" stroke="#444" stroke-width="0.85"/>
<path d="M434.97 477.5V487.88M433.07 477.5H436.87M433.07 487.88H436.87" stroke="#555" stroke-width="0.8" fill="none"/>
<path d="M454.95 497.98V503.99M453.05 497.98H456.85M453.05 503.99H456.85" stroke="#555" stroke-width="0.8" fill="none"/>
<rect x="450.6" y="500.99" width="8.7" height="9.01" fill="#000"/>
<rect x="459.7" y="461.79" width="7.9" height="48.21" fill="#fff" stroke="#444" stroke-width="0.85"/>
<path d="M463.65 457.56V465.21M461.75 457.56H465.55M461.75 465.21H465.55" stroke="#555" stroke-width="0.8" fill="none"/>
<path d="M299.45 373.45H479.9V510H299.45Z" fill="none" stroke="#5c5c5c" stroke-width="1.1"/>
<text x="340.23" y="491.47" font-size="9" text-anchor="middle" >a</text>
<text x="348.93" y="484.07" font-size="9" text-anchor="middle" >a</text>
<text x="368.91" y="493.87" font-size="9" text-anchor="middle" >b</text>
<text x="377.61" y="485.77" font-size="9" text-anchor="middle" >a</text>
<text x="397.59" y="487.87" font-size="9" text-anchor="middle" >b</text>
<text x="406.29" y="387.17" font-size="9" text-anchor="middle" >a</text>
<text x="426.27" y="484.87" font-size="9" text-anchor="middle" >a</text>
<text x="434.97" y="474.57" font-size="9" text-anchor="middle" >a</text>
<text x="454.95" y="496.97" font-size="9" text-anchor="middle" >b</text>
<text x="463.65" y="455.47" font-size="9" text-anchor="middle" >a</text>
<rect x="347.3" y="388" width="18.6" height="4.1" fill="#000"/>
<rect x="347.7" y="402" width="17.8" height="3.3" fill="#fff" stroke="#222" stroke-width="0.8"/>
<text x="370.3" y="393.1" font-size="9.2" text-anchor="start" textLength="28.6" lengthAdjust="spacingAndGlyphs" >Control</text>
<text x="370.3" y="406.4" font-size="9.2" text-anchor="start" textLength="17.5" lengthAdjust="spacingAndGlyphs" >CaCl</text>
<text x="388.1" y="408.7" font-size="5.8" text-anchor="start" >2</text>
<text x="305.9" y="384.7" font-size="10" text-anchor="start" textLength="5.4" lengthAdjust="spacingAndGlyphs" >F</text>
<text x="360.3" y="539.7" font-size="9.3" text-anchor="start" textLength="58.3" lengthAdjust="spacingAndGlyphs" >Storage time (d)</text>
<text transform="translate(285.5,442) rotate(-90)" x="0" y="0" font-size="9.3" text-anchor="middle" textLength="118" lengthAdjust="spacingAndGlyphs">Relative expression of <tspan font-style="italic">EjDHAR</tspan></text>
<rect x="350" y="362.3" width="80" height="9" fill="#fff"/>
<rect x="80" y="544.3" width="80" height="6" fill="#fff"/>
</svg>
</body></html>
